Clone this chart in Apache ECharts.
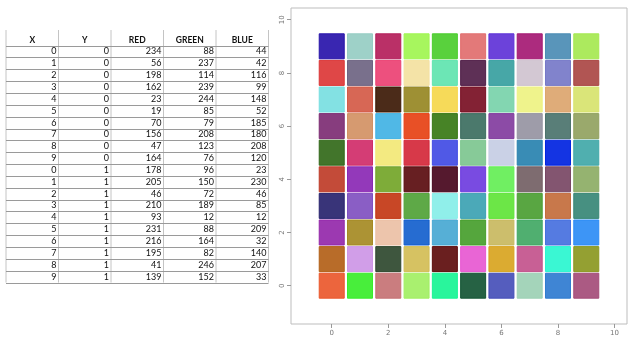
<!DOCTYPE html>
<html><head><meta charset="utf-8">
<script src="https://cdn.jsdelivr.net/npm/echarts@6/dist/echarts.min.js"></script>
<style>html,body{margin:0;padding:0;background:#fff}#c{width:640px;height:347px}</style>
</head><body><div id="c"></div>
<script>
// Grid cells, ordered x fast (0..9), y slow (0..9)
const xs = [0,1,2,3,4,5,6,7,8,9];
const ys = [0,1,2,3,4,5,6,7,8,9];
const red = [
 234,56,198,162,23,19,70,156,47,164,
 178,205,46,210,93,231,216,195,41,139,
 148,165,235,20,72,70,200,65,70,45,
 40,128,195,80,135,60,95,75,195,55,
 190,138,115,90,70,110,100,115,120,140,
 50,208,242,212,65,125,198,40,0,65,
 125,210,65,230,55,60,130,150,75,145,
 120,212,60,150,245,120,120,238,220,215,
 220,110,235,243,95,80,55,207,118,170,
 40,150,180,160,75,225,95,165,75,165
];
const green = [
 88,237,114,239,244,85,79,208,123,76,
 96,150,72,189,12,88,164,82,246,152,
 40,138,192,95,168,158,185,168,112,140,
 35,80,55,162,238,162,228,158,108,135,
 60,40,165,12,5,60,238,95,70,172,
 105,45,232,40,75,198,205,130,35,168,
 45,145,178,65,120,110,60,148,115,162,
 222,90,25,135,215,15,210,242,165,227,
 55,100,65,225,228,30,160,195,120,70,
 20,205,30,245,205,110,50,25,140,232
];
const blue = [
 44,42,116,99,148,52,185,180,208,120,
 23,230,46,85,12,209,32,140,207,33,
 170,35,165,205,210,45,95,100,222,245,
 110,192,20,55,232,178,55,50,60,118,
 40,180,40,15,28,222,85,100,100,100,
 25,105,118,58,228,143,228,175,225,168,
 115,100,228,20,20,95,158,162,108,95,
 225,70,5,35,75,35,170,130,110,110,
 55,130,115,160,175,72,160,207,200,68,
 170,195,90,80,45,110,215,115,180,80
];
// Table (first 20 rows of the data)
const tableHeaders = ['X','Y','RED','GREEN','BLUE'];
const axisTicks = [0,2,4,6,8,10];

const cells = [];
for (let j = 0; j < ys.length; j++) {
  for (let i = 0; i < xs.length; i++) {
    const k = j * xs.length + i;
    const r = red[k], g = green[k], b = blue[k];
    cells.push({
      value: [xs[i], ys[j]],
      itemStyle: {
        color: 'rgba(' + r + ',' + g + ',' + b + ',0.92)',
        borderColor: 'rgb(' + r + ',' + g + ',' + b + ')'
      }
    });
  }
}

// table graphics
const colLines = [6, 58.5, 111, 163.5, 216, 268.5];
const headerY = 40, row0Y = 51.5, rowH = 11.85;
const g = [];
const nRows = 20;
const tableBottom = row0Y + rowH * (nRows - 1) + rowH / 2;
colLines.forEach(function (x) {
  g.push({type: 'line', shape: {x1: x, y1: 30, x2: x, y2: tableBottom}, style: {stroke: '#c4c4c4', lineWidth: 1}, silent: true});
});
for (let i = 0; i <= nRows; i++) {
  const y = Math.round(row0Y - rowH / 2 + rowH * i) + 0.5;
  g.push({type: 'line', shape: {x1: colLines[0], y1: y, x2: colLines[5], y2: y}, style: {stroke: '#9a9a9a', lineWidth: 1}, silent: true});
}
tableHeaders.forEach(function (h, c) {
  g.push({type: 'text', x: (colLines[c] + colLines[c + 1]) / 2, y: headerY,
    style: {text: h, font: 'bold 8.5px Lato', fill: '#111', align: 'center', verticalAlign: 'middle'}});
});
for (let k = 0; k < nRows; k++) {
  const vals = [k % 10, Math.floor(k / 10), red[k], green[k], blue[k]];
  vals.forEach(function (v, c) {
    g.push({type: 'text', x: colLines[c + 1] - 2, y: row0Y + rowH * k,
      style: {text: String(v), font: '9px Lato', fill: '#111', align: 'right', verticalAlign: 'middle'}});
  });
}

const chart = echarts.init(document.getElementById('c'), null, {renderer: 'canvas'});
chart.setOption({
  animation: false,
  backgroundColor: '#fff',
  graphic: g,
  grid: {left: 291, right: 13, top: 8, bottom: 23, show: true, borderColor: '#bdbdbd', borderWidth: 1},
  xAxis: {
    type: 'value', min: -1.44, max: 10.44,
    splitLine: {show: false},
    axisLine: {show: false, onZero: false},
    axisTick: {show: true, length: 4, customValues: axisTicks, lineStyle: {color: '#999'}},
    axisLabel: {customValues: axisTicks, color: '#777', fontSize: 7, margin: 6, fontFamily: 'DejaVu Sans'}
  },
  yAxis: {
    type: 'value', min: -1.44, max: 10.44,
    splitLine: {show: false},
    axisLine: {show: false, onZero: false},
    axisTick: {show: true, length: 4, customValues: axisTicks, lineStyle: {color: '#999'}},
    axisLabel: {customValues: axisTicks, color: '#777', fontSize: 7, margin: 5, rotate: 90, fontFamily: 'DejaVu Sans'}
  },
  series: [{
    type: 'scatter',
    symbol: 'rect',
    symbolSize: 25,
    itemStyle: {borderWidth: 1, opacity: 1},
    data: cells
  }]
});
</script></body></html>
